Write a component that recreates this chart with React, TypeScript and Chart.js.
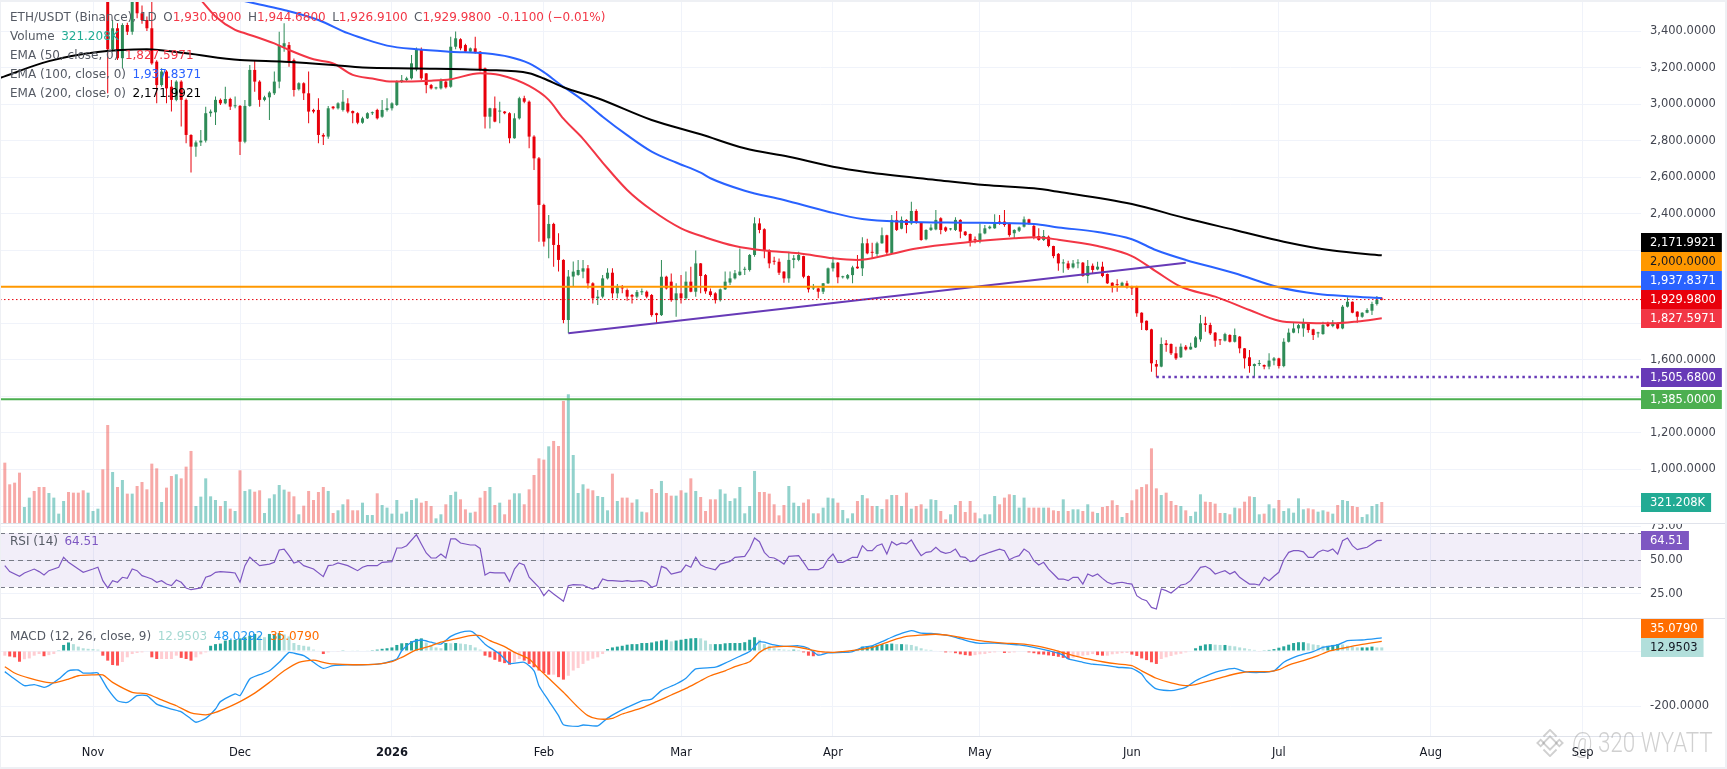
import React, { useEffect, useRef } from "react";
import { Chart, registerables } from "chart.js";

Chart.register(...registerables);

// Day index 0 = 1 Nov 2025 (daily candles, ETH/USDT Binance)
const CANDLE_FIRST_DAY = 3;
const opens = [
  3640,3300,3415,3251,3433,3396,3561,3497,3460,3415,
  3232,3104,3178,3095,3023,3123,3023,2831,2767,2790,
  2800,2950,2955,3023,3004,3028,2988,2990,2794,2990,
  3187,3123,3023,3037,3059,3123,3314,3323,3241,3081,
  3114,3059,2968,2968,2831,2822,2986,2977,2968,3004,
  2962,2950,2898,2922,2950,2968,2931,2968,2977,2995,
  3123,3132,3141,3190,3300,3168,3104,3086,3086,3123,
  3095,3314,3355,3323,3287,3305,3287,3196,2931,2977,
  2959,2959,2950,2813,2922,3032,3013,2822,2703,2448,
  2265,2344,2229,2147,1818,2056,2065,2083,2101,2019,
  1937,1946,2046,2077,1964,1997,1982,1955,1946,1970,
  1973,1955,1855,1845,2055,2028,1927,1964,1937,2028,
  1973,2128,2064,1975,1964,1927,1986,2023,2046,2064,
  2093,2092,2174,2347,2315,2201,2138,2137,2083,2046,
  2147,2147,2168,2059,1991,1991,1973,2019,2101,2132,
  2052,2046,2064,2110,2101,2238,2187,2180,2238,2282,
  2183,2366,2318,2366,2347,2415,2351,2260,2311,2314,
  2375,2325,2314,2311,2366,2302,2289,2256,2256,2292,
  2320,2320,2357,2357,2347,2293,2307,2329,2369,2333,
  2278,2256,2274,2223,2180,2128,2128,2106,2128,2132,
  2059,2115,2095,2110,2070,2022,2010,2004,2019,2004,
  2004,1858,1814,1767,1577,1563,1690,1687,1636,1614,
  1672,1657,1668,1712,1800,1791,1749,1708,1705,1736,
  1699,1727,1663,1614,1566,1577,1572,1563,1596,1608,
  1566,1699,1749,1772,1772,1803,1767,1745,1741,1800,
  1785,1800,1772,1891,1918,1864,1836,1858,1869,1906,
  1930.09,
];
const highs = [
  3700,3460,3442,3442,3445,3575,3578,3540,3480,3570,
  3240,3196,3185,3132,3130,3130,3030,2835,2800,2858,
  2986,2970,3041,3030,3095,3035,3041,2995,3023,3214,
  3241,3130,3045,3070,3178,3396,3442,3340,3250,3120,
  3120,3178,2975,3032,2840,2990,2990,3010,3077,3032,
  2965,2955,2930,2955,2960,2975,3023,3032,3010,3130,
  3159,3150,3269,3310,3310,3170,3110,3095,3140,3130,
  3369,3397,3360,3330,3310,3369,3290,3200,2980,3041,
  3013,2962,2955,2950,3040,3045,3020,2830,2710,2455,
  2393,2350,2293,2150,2092,2138,2147,2147,2119,2025,
  1982,2064,2101,2101,2015,2010,1990,1960,1982,1991,
  1980,1960,1858,2147,2060,2073,2019,2064,2083,2110,
  2198,2130,2070,1990,1970,1990,2083,2083,2092,2210,
  2110,2180,2380,2375,2320,2205,2165,2155,2085,2192,
  2174,2192,2170,2062,2015,1995,2020,2105,2165,2135,
  2060,2070,2115,2174,2271,2263,2241,2247,2325,2285,
  2393,2415,2384,2370,2466,2424,2355,2315,2342,2420,
  2380,2330,2322,2380,2370,2305,2292,2275,2347,2338,
  2335,2397,2393,2420,2350,2315,2330,2384,2372,2338,
  2320,2311,2280,2225,2185,2150,2143,2147,2150,2135,
  2147,2128,2137,2137,2072,2025,2041,2028,2033,2006,
  2006,1860,1816,1770,1599,1723,1708,1690,1672,1690,
  1681,1694,1730,1845,1836,1803,1752,1712,1749,1740,
  1772,1730,1665,1654,1580,1599,1575,1636,1615,1612,
  1718,1772,1803,1796,1827,1805,1770,1754,1809,1809,
  1818,1805,1900,1942,1920,1866,1860,1882,1918,1950,
  1944.68,
];
const lows = [
  3059,3287,3241,3196,3378,3380,3470,3440,3400,3215,
  3004,3095,3004,2959,3015,2877,2785,2625,2712,2770,
  2790,2930,2886,2995,2999,2968,2977,2721,2785,2985,
  3068,2986,3015,2913,3050,3086,3287,3205,3041,3075,
  3023,2895,2950,2785,2776,2810,2970,2970,2960,2950,
  2895,2890,2893,2918,2940,2915,2925,2960,2965,2990,
  3115,3125,3135,3180,3132,3059,3080,3080,3080,3085,
  3090,3300,3295,3280,3280,3275,3180,2867,2867,2900,
  2895,2945,2785,2810,2915,3005,2758,2639,2247,2220,
  2156,2110,2083,1800,1745,2000,2060,2046,1991,1909,
  1900,1937,2040,1937,1937,1964,1924,1909,1937,1955,
  1937,1836,1800,1840,1985,1918,1836,1909,1928,1970,
  1946,1964,1962,1946,1909,1920,1982,2010,2040,2060,
  2065,2083,2165,2293,2156,2101,2120,2064,2022,2022,
  2101,2140,2046,1968,1982,1937,1960,2015,2083,2019,
  2045,2040,2019,2098,2059,2178,2156,2168,2235,2174,
  2180,2305,2315,2293,2340,2345,2252,2255,2305,2310,
  2287,2300,2308,2305,2265,2278,2220,2238,2238,2288,
  2315,2318,2340,2329,2274,2265,2300,2325,2340,2260,
  2252,2250,2216,2156,2088,2077,2092,2100,2101,2055,
  2019,2074,2090,2052,2015,1968,1973,2000,1991,1955,
  1836,1763,1760,1535,1505.68,1560,1645,1626,1599,1610,
  1651,1655,1665,1699,1754,1736,1672,1681,1700,1695,
  1695,1636,1553,1530,1507,1566,1548,1548,1570,1553,
  1560,1695,1745,1745,1727,1749,1709,1723,1738,1780,
  1778,1768,1768,1887,1855,1803,1830,1855,1845,1898,
  1926.91,
];
const closes = [
  3300,3415,3251,3433,3396,3561,3497,3460,3415,3223,
  3104,3178,3086,3023,3123,3023,2831,2767,2790,2800,
  2950,2959,3023,3004,3028,2986,2990,2794,2990,3187,
  3123,3023,3037,3063,3123,3323,3333,3232,3077,3114,
  3059,2959,2959,2831,2822,2977,2977,3004,3013,2959,
  2950,2898,2922,2950,2952,2922,2968,2977,3004,3123,
  3132,3141,3223,3300,3141,3104,3086,3088,3132,3092,
  3314,3360,3305,3287,3305,3282,3187,2931,2977,2904,
  2960,2950,2813,2922,3032,3013,2822,2703,2448,2247,
  2344,2229,2147,1818,2056,2083,2092,2101,2019,1937,
  1946,2046,2077,1964,1997,1991,1946,1946,1971,1972,
  1946,1845,1845,2055,1991,1927,1964,1937,2028,1973,
  2128,2059,1975,1955,1927,1986,2028,2046,2074,2083,
  2095,2174,2347,2311,2198,2128,2137,2077,2046,2147,
  2156,2174,2055,1986,1992,1973,2019,2101,2132,2052,
  2054,2064,2106,2101,2238,2183,2186,2238,2282,2187,
  2366,2311,2366,2338,2415,2351,2256,2311,2324,2366,
  2311,2307,2316,2366,2302,2283,2247,2255,2292,2320,
  2329,2347,2344,2338,2283,2311,2325,2369,2347,2274,
  2256,2278,2223,2168,2128,2130,2101,2128,2129,2059,
  2114,2092,2110,2059,2019,1997,2009,2022,1997,1991,
  1855,1803,1763,1581,1563,1687,1681,1636,1608,1672,
  1657,1672,1723,1800,1791,1745,1705,1707,1741,1699,
  1736,1663,1608,1566,1577,1578,1563,1596,1608,1566,
  1699,1749,1772,1790,1803,1763,1736,1746,1791,1785,
  1803,1772,1891,1918,1858,1836,1858,1873,1906,1930.09,
  1929.98,
];

// Series that start before the first visible candle
const SERIES_FIRST_DAY = -18;
// volume in thousands
const volumes = [
  923,592,617,770,245,388,490,551,551,459,
  388,143,337,474,464,464,500,464,184,219,
  821,1499,780,551,658,449,449,566,627,515,
  908,836,321,541,719,745,683,862,1102,260,
  403,683,408,352,260,337,219,184,806,490,
  515,479,500,153,377,439,581,510,479,408,
  133,265,490,352,474,551,490,153,194,286,
  362,194,194,311,122,122,454,275,235,143,
  352,143,173,352,377,311,337,260,71,133,
  286,428,479,362,209,158,173,388,490,551,
  275,311,133,357,454,454,286,515,734,989,
  969,1173,1255,1178,1867,1969,1040,459,592,525,
  500,413,398,194,755,337,388,388,311,362,
  173,163,520,459,643,459,418,418,500,464,
  683,490,398,184,362,362,515,449,337,377,
  551,148,260,796,474,474,449,286,117,275,
  566,311,260,311,362,148,148,235,388,377,
  311,199,71,148,337,428,377,260,260,214,
  362,428,428,260,464,219,260,286,219,362,
  352,184,56,133,275,337,168,337,158,71,
  133,133,413,286,388,439,428,235,388,235,
  235,235,235,235,194,184,362,184,209,209,
  184,286,173,153,245,260,347,275,92,153,
  347,515,551,592,1142,530,428,464,337,275,
  260,194,107,173,439,326,321,296,153,153,
  133,235,224,326,408,398,133,143,286,224,
  352,184,224,158,377,209,224,209,173,194,
  173,143,275,352,337,260,245,92,133,260,
  290,321.208,
];
// direction of the volume bars whose candles sit above the visible range (days -18..2)
const earlyVolumeDirections = "dddduuddduuuudddduuud";

const macdHistogram = [
  -17,-20,-23,-39,-30,-27,-17,-11,-19,-15,
  -11,1,22,31,25,16,10,8,7,5,
  -17,-35,-51,-53,-40,-23,-11,-7,-5,-2,
  -23,-29,-29,-29,-29,-17,-25,-29,-35,-23,
  -12,-5,19,25,27,38,40,41,46,50,
  56,62,56,50,62,62,65,60,53,29,
  22,19,16,5,2,-11,-5,-2,-1,1,
  0,2,1,0,2,3,5,8,10,13,
  22,28,29,36,44,46,31,22,13,10,
  29,28,29,27,25,22,13,5,-17,-23,
  -32,-39,-44,-50,-41,-29,-35,-47,-59,-71,
  -80,-86,-86,-95,-104,-90,-71,-62,-47,-35,
  -28,-23,-11,7,13,16,19,23,25,25,
  29,29,31,35,38,41,35,38,41,44,
  46,47,46,38,25,25,25,28,29,29,
  29,32,41,50,41,25,19,10,7,5,
  4,5,4,-5,-17,-19,-17,-12,-7,-2,
  -2,-4,-5,1,7,16,17,19,22,25,
  25,27,25,25,24,22,17,10,5,4,
  2,-2,-5,-5,-8,-12,-15,-17,-15,-12,
  -11,-7,-5,-2,-7,-7,-5,-2,-2,-5,
  -8,-12,-13,-16,-18,-21,-25,-29,-24,-19,
  -17,-15,-11,-15,-17,-17,-12,-10,-8,-7,
  -13,-18,-27,-33,-41,-47,-29,-23,-18,-13,
  -10,-5,-2,10,19,24,25,23,22,22,
  19,17,13,10,6,4,-2,1,4,7,
  12,17,23,29,32,32,28,24,22,19,
  19,22,25,24,19,16,13,13,13,16,
  13,12.9503,
];

const macdLine: [number, number][] = [
  [-18,-75],[-16,-102],[-14,-126],[-12,-122],[-10,-132],[-9,-126],[-7,-102],[-5,-72],[-3,-69],[-2,-80],
  [0,-80],[1,-80],[3,-138],[5,-181],[7,-187],[9,-162],[11,-162],[13,-193],[16,-211],[18,-221],
  [20,-247],[21,-259],[23,-245],[25,-211],[26,-184],[29,-156],[30,-162],[32,-102],[34,-86],[36,-72],
  [38,-41],[40,-5],[41,-8],[43,-17],[45,-41],[47,-63],[49,-53],[52,-50],[55,-50],[58,-48],
  [60,-41],[62,-29],[63,1],[65,32],[67,40],[69,32],[71,25],[73,53],[75,68],[77,72],
  [78,62],[80,25],[83,-11],[85,-45],[88,-41],[90,-72],[91,-126],[93,-181],[95,-235],[96,-268],
  [99,-274],[100,-269],[103,-272],[105,-244],[107,-223],[109,-205],[112,-181],[114,-175],[116,-144],[119,-120],
  [121,-99],[123,-65],[127,-59],[129,-44],[132,-19],[134,-2],[136,34],[137,32],[139,22],[141,17],
  [144,19],[146,10],[148,-15],[150,-7],[153,-5],[155,-2],[157,13],[159,19],[161,34],[163,50],
  [165,64],[167,74],[169,65],[171,64],[174,58],[176,50],[179,34],[181,28],[184,29],[187,25],
  [189,22],[192,13],[195,1],[198,-15],[199,-29],[202,-41],[204,-48],[207,-53],[209,-59],[212,-63],
  [214,-84],[215,-108],[217,-138],[220,-144],[223,-132],[225,-108],[228,-84],[230,-72],[233,-63],[235,-75],
  [238,-78],[241,-72],[243,-41],[246,-17],[249,-2],[251,13],[254,22],[256,38],[259,40],[263,48.0292],
];
const signalLine: [number, number][] = [
  [-18,-57],[-16,-80],[-13,-99],[-10,-112],[-8,-116],[-5,-102],[-3,-90],[0,-87],[2,-87],[4,-114],
  [8,-150],[11,-156],[14,-178],[17,-199],[20,-225],[23,-232],[25,-223],[28,-201],[30,-184],[33,-153],
  [36,-114],[39,-72],[42,-41],[45,-33],[47,-41],[49,-47],[53,-50],[58,-48],[61,-39],[63,-23],
  [66,4],[69,19],[71,32],[74,44],[77,56],[79,56],[81,38],[84,16],[86,-5],[89,-29],
  [91,-65],[93,-99],[96,-150],[99,-205],[101,-235],[103,-247],[106,-245],[108,-229],[112,-207],[115,-184],
  [118,-160],[121,-136],[124,-108],[126,-90],[129,-72],[131,-57],[134,-39],[136,-5],[138,13],[141,17],
  [143,16],[145,10],[148,-1],[151,-5],[153,-2],[156,4],[159,13],[161,25],[163,38],[166,53],
  [169,58],[172,61],[175,56],[178,46],[182,35],[186,29],[190,25],[193,17],[196,4],[199,-11],
  [203,-29],[206,-39],[209,-47],[212,-53],[214,-72],[217,-99],[220,-116],[223,-126],[225,-122],[228,-108],
  [231,-93],[234,-80],[236,-75],[240,-75],[242,-68],[244,-51],[247,-35],[250,-17],[252,-2],[255,10],
  [259,24],[263,35.079],
];

const rsiPoints: [number, number][] = [
  [-18,45.8],[-17,41.4],[-15,37.9],[-14,40.4],[-12,43.3],[-11,41.4],[-10,38.9],[-9,42.1],[-7,44.6],[-6,52.0],
  [-5,48.3],[-3,43.3],[-2,40.9],[0,43.3],[1,44.6],[2,34.7],[3,29.3],[4,34.7],[5,33.5],[6,37.2],
  [7,36.4],[8,43.3],[9,42.1],[10,38.4],[11,37.2],[12,35.9],[13,33.5],[14,34.7],[15,32.2],[16,31.0],
  [17,35.2],[18,33.5],[19,29.3],[20,28.0],[22,29.3],[23,37.2],[24,38.4],[25,40.9],[26,41.4],[28,40.9],
  [29,40.4],[30,33.5],[31,45.8],[32,52.0],[33,48.8],[34,45.8],[36,47.0],[37,48.3],[38,57.4],[39,58.1],
  [40,53.2],[41,47.8],[42,49.0],[43,45.8],[45,43.3],[47,37.7],[48,45.8],[49,46.3],[50,47.8],[52,45.8],
  [54,42.1],[55,44.6],[56,45.8],[58,45.8],[59,48.3],[61,48.8],[62,58.9],[63,58.9],[64,60.6],[66,68.8],
  [67,61.9],[68,55.2],[69,51.5],[70,51.5],[71,54.4],[72,51.5],[73,65.6],[74,65.6],[75,62.6],[77,61.1],
  [78,61.1],[79,58.6],[80,38.9],[81,40.9],[82,40.4],[84,40.4],[85,34.0],[86,43.3],[87,47.8],[88,46.3],
  [89,37.2],[91,29.8],[92,23.6],[93,27.8],[94,24.8],[96,19.4],[97,31.0],[98,31.7],[100,31.5],[101,29.8],
  [102,28.5],[103,29.8],[104,35.9],[105,34.7],[106,34.7],[108,34.2],[109,34.7],[110,34.2],[112,34.7],[113,33.5],
  [114,29.8],[115,31.0],[116,45.3],[117,43.8],[118,39.6],[120,41.4],[121,46.3],[122,44.6],[123,52.0],[124,46.5],
  [125,44.6],[127,42.8],[128,47.0],[130,49.0],[131,52.0],[133,52.7],[134,58.1],[135,66.3],[136,63.6],[137,55.7],
  [138,52.0],[139,51.5],[140,49.5],[141,47.0],[142,52.7],[144,53.2],[145,48.3],[146,42.8],[148,42.8],[149,44.6],
  [150,50.7],[151,54.4],[152,48.3],[153,48.3],[155,52.0],[156,52.0],[157,60.6],[158,56.9],[159,56.9],[160,60.6],
  [161,61.9],[162,54.4],[163,63.6],[164,61.1],[165,62.6],[166,61.9],[167,64.8],[168,58.6],[169,53.2],[170,55.7],
  [171,56.2],[172,59.4],[173,56.2],[174,54.9],[175,55.7],[176,58.1],[177,52.5],[178,52.0],[179,48.8],[180,49.5],
  [181,53.2],[182,54.4],[183,55.7],[185,58.1],[186,56.9],[187,50.2],[188,52.0],[189,53.2],[190,58.1],[191,55.7],
  [192,49.5],[193,46.3],[194,48.3],[195,43.3],[196,39.6],[197,35.9],[198,35.9],[199,34.7],[200,37.2],[201,37.2],
  [202,32.2],[203,39.6],[204,37.9],[205,39.6],[206,36.4],[207,33.5],[208,32.2],[209,33.0],[210,33.5],[211,32.7],
  [212,32.2],[213,23.6],[214,21.1],[215,19.9],[216,14.9],[217,13.7],[218,28.5],[219,27.3],[220,25.6],[222,31.5],
  [223,32.2],[224,34.7],[226,44.6],[227,45.3],[228,43.3],[229,39.6],[230,40.9],[231,42.1],[232,39.6],[233,41.4],
  [234,37.2],[235,34.7],[236,32.2],[237,32.2],[238,31.5],[239,37.2],[240,34.7],[241,38.0],[242,40.9],[243,50.2],
  [244,55.7],[245,56.9],[246,56.9],[247,56.0],[248,52.0],[249,52.0],[250,55.7],[251,57.4],[252,56.4],[253,58.1],
  [254,54.4],[255,64.3],[256,66.3],[257,60.6],[258,57.7],[259,58.6],[260,59.4],[261,61.9],[262,64.3],[263,64.51],
];

const ema50: [number, number][] = [
  [22,3570],[25,3480],[29,3406],[31,3388],[37,3332],[40,3296],[45,3245],[49,3223],[53,3160],[57,3140],
  [61,3123],[69,3128],[73,3136],[79,3169],[83,3159],[89,3099],[93,3023],[96,2920],[100,2810],[104,2680],
  [109,2530],[114,2420],[120,2320],[125,2270],[131,2223],[137,2198],[144,2183],[151,2156],[156,2147],[162,2174],
  [168,2210],[178,2243],[188,2265],[192,2271],[197,2258],[205,2223],[212,2168],[217,2083],[222,2000],[229,1946],
  [236,1873],[242,1814],[247,1803],[253,1800],[258,1810],[263,1827.5971],
];
const ema100: [number, number][] = [
  [30,3570],[34,3545],[39,3515],[46,3460],[52,3388],[55,3360],[60,3320],[66,3300],[73,3287],[80,3278],
  [85,3258],[89,3223],[92,3175],[95,3114],[100,3020],[104,2931],[109,2830],[114,2740],[119,2680],[124,2625],
  [126,2594],[133,2526],[141,2475],[150,2411],[157,2371],[165,2356],[178,2351],[192,2344],[197,2325],[205,2300],
  [212,2260],[217,2200],[223,2147],[233,2074],[242,1997],[250,1960],[256,1948],[263,1937.8371],
];
const ema200: [number, number][] = [
  [-19,3143],[-9,3235],[1,3285],[11,3300],[19,3278],[30,3241],[39,3232],[49,3214],[55,3200],[66,3195],
  [80,3187],[89,3169],[92,3140],[96,3092],[103,3032],[114,2913],[124,2835],[133,2758],[142,2712],[151,2657],
  [158,2627],[172,2585],[182,2557],[192,2539],[197,2520],[212,2453],[223,2375],[233,2311],[243,2247],[253,2198],
  [263,2171.9921],
];

const trendLine: [number, number][] = [[97, 1745], [223, 2132]];
const resistanceLevel = 2000;
const supportLevel = 1385;
const swingLowLevel = 1505.68;
const swingLowDay = 217;

const monthTicks: [number, string][] = [
  [0, "Nov"], [30, "Dec"], [61, "2026"], [92, "Feb"], [120, "Mar"], [151, "Apr"],
  [181, "May"], [212, "Jun"], [242, "Jul"], [273, "Aug"], [304, "Sep"],
];
const yearTickDay = 61;
const priceTicks = [800,1000,1200,1400,1600,1800,2000,2200,2400,2600,2800,3000,3200,3400];
const rsiTicks = [25, 50, 75];
const rsiBandLines = [70, 50, 30];
const macdTicks = [-200, 0];

// axis ranges
const DAY_MIN = -18.98;
const DAY_MAX = 315.9;
const PRICE_MIN = 707;
const PRICE_MAX = 3569.7;
const VOLUME_MAX = 8000;
const RSI_MIN = 7.04;
const RSI_MAX = 77.41;
const MACD_MIN = -309;
const MACD_MAX = 120;

// ---------------------------------------------------------------------------
const FONT = "'DejaVu Sans', 'Liberation Sans', sans-serif";
const AXIS_W = 86;
const GRID = "#f0f3fa";
const TEXT = "#434651";
const UP = "#2e8b57";
const DOWN = "#e8000b";
const VOL_UP = "rgba(38,166,154,0.5)";
const VOL_DOWN = "rgba(239,83,80,0.5)";
const EMA50_C = "#f23645";
const EMA100_C = "#2962ff";
const EMA200_C = "#000000";
const PURPLE = "#673ab7";
const ORANGE = "#ff9800";
const GREEN_LVL = "#4caf50";
const RSI_C = "#7e57c2";
const MACD_C = "#2196f3";
const SIGNAL_C = "#ff6d00";

const fmt4 = (v: number) =>
  v.toLocaleString("en-US", { minimumFractionDigits: 4, maximumFractionDigits: 4 });

type Tag = { value: number; text: string; bg: string; fg: string };

function drawTags(chart: any, axisId: string, tags: Tag[]) {
  const { ctx, chartArea } = chart;
  const scale = chart.scales[axisId];
  const h = 19;
  const items = tags
    .map((t) => ({ ...t, y: scale.getPixelForValue(t.value) }))
    .sort((a, b) => b.y - a.y);
  let prev = Infinity;
  ctx.save();
  ctx.font = `11.5px ${FONT}`;
  ctx.textBaseline = "middle";
  ctx.textAlign = "left";
  for (const it of items) {
    const y = Math.min(it.y, prev - h);
    prev = y;
    const w = ctx.measureText(it.text).width + 15;
    ctx.fillStyle = it.bg;
    ctx.fillRect(chartArea.right, Math.round(y - h / 2), w, h);
    ctx.fillStyle = it.fg;
    ctx.fillText(it.text, chartArea.right + 9, Math.round(y - h / 2) + h / 2 + 0.5);
  }
  ctx.restore();
}

const pairs = (p: [number, number][]) => p.map(([x, y]) => ({ x, y }));

function xAxis(showLabels: boolean) {
  return {
    type: "linear" as const,
    min: DAY_MIN,
    max: DAY_MAX,
    offset: false,
    position: "bottom" as const,
    grid: { color: GRID, drawTicks: false, tickLength: 0, offset: false },
    border: { display: showLabels, color: "#e0e3eb" },
    afterBuildTicks: (s: any) => {
      s.ticks = monthTicks.map(([d]) => ({ value: d }));
    },
    afterFit: (s: any) => {
      s.height = showLabels ? 33 : 0;
      s.paddingLeft = 0;
      s.paddingRight = 0;
    },
    ticks: {
      display: showLabels,
      autoSkip: false,
      maxRotation: 0,
      padding: 10,
      color: "#131722",
      font: (c: any) => ({
        family: FONT,
        size: 11.5,
        weight: c.tick && c.tick.value === yearTickDay ? "bold" : "normal",
      }),
      callback: (v: any) => {
        const m = monthTicks.find(([d]) => d === v);
        return m ? m[1] : "";
      },
    },
  };
}

function yAxis(min: number, max: number, ticks: number[], fmt: (v: number) => string) {
  return {
    type: "linear" as const,
    position: "right" as const,
    min,
    max,
    grid: { color: GRID, drawTicks: false, tickLength: 0 },
    border: { display: false },
    afterBuildTicks: (s: any) => {
      s.ticks = ticks.map((v) => ({ value: v }));
    },
    afterFit: (s: any) => {
      s.width = AXIS_W;
      s.paddingTop = 0;
      s.paddingBottom = 0;
    },
    ticks: {
      padding: 9,
      color: TEXT,
      font: { family: FONT, size: 11.5 },
      callback: (v: any) => fmt(Number(v)),
    },
  };
}

const baseOptions = {
  animation: false as const,
  responsive: false,
  maintainAspectRatio: false,
  events: [] as any[],
  layout: { padding: 0 },
  plugins: { legend: { display: false }, tooltip: { enabled: false } },
};

export default function App() {
  const priceRef = useRef<HTMLCanvasElement>(null);
  const rsiRef = useRef<HTMLCanvasElement>(null);
  const macdRef = useRef<HTMLCanvasElement>(null);

  useEffect(() => {
    document.body.style.margin = "0";
    Chart.defaults.font.family = FONT;

    const n = closes.length;
    const candleDays = closes.map((_, i) => CANDLE_FIRST_DAY + i);
    const candleColors = closes.map((c, i) => (c >= opens[i] ? UP : DOWN));
    const bodies = closes.map((c, i) => ({ x: candleDays[i], y: [opens[i], c] }));
    const wicks = closes.map((_, i) => ({ x: candleDays[i], y: [lows[i], highs[i]] }));

    const volData = volumes.map((v, i) => ({ x: SERIES_FIRST_DAY + i, y: v }));
    const volColors = volumes.map((_, i) => {
      const day = SERIES_FIRST_DAY + i;
      const ci = day - CANDLE_FIRST_DAY;
      if (ci >= 0 && ci < n) return closes[ci] >= opens[ci] ? VOL_UP : VOL_DOWN;
      return earlyVolumeDirections[i] === "u" ? VOL_UP : VOL_DOWN;
    });

    const flat = (v: number, from = DAY_MIN) => [
      { x: from, y: v },
      { x: DAY_MAX, y: v },
    ];
    const lastClose = closes[n - 1];
    const last = (p: [number, number][]) => p[p.length - 1][1];

    const lineDs = (data: any[], color: string, width: number, order: number, extra: any = {}) => ({
      type: "line" as const,
      data,
      borderColor: color,
      borderWidth: width,
      pointRadius: 0,
      fill: false,
      order,
      ...extra,
    });

    const priceChart = new Chart(priceRef.current as HTMLCanvasElement, {
      type: "bar",
      data: {
        datasets: [
          {
            type: "bar",
            data: volData as any,
            yAxisID: "vol",
            backgroundColor: volColors,
            barThickness: 3,
            grouped: false,
            inflateAmount: 0,
            order: 9,
          },
          {
            type: "bar",
            data: wicks as any,
            yAxisID: "y",
            backgroundColor: candleColors,
            barThickness: 1,
            grouped: false,
            inflateAmount: 0,
            minBarLength: 1,
            order: 6,
          },
          {
            type: "bar",
            data: bodies as any,
            yAxisID: "y",
            backgroundColor: candleColors,
            barThickness: 3,
            grouped: false,
            inflateAmount: 0,
            minBarLength: 1,
            order: 5,
          },
          lineDs(pairs(ema200), EMA200_C, 2, 3, { yAxisID: "y", cubicInterpolationMode: "monotone" }),
          lineDs(pairs(ema100), EMA100_C, 2, 3, { yAxisID: "y", cubicInterpolationMode: "monotone" }),
          lineDs(pairs(ema50), EMA50_C, 2, 3, { yAxisID: "y", cubicInterpolationMode: "monotone" }),
          lineDs(pairs(trendLine), PURPLE, 2, 2, { yAxisID: "y" }),
          lineDs(flat(resistanceLevel), ORANGE, 2, 1, { yAxisID: "y" }),
          lineDs(flat(supportLevel), GREEN_LVL, 2, 1, { yAxisID: "y" }),
          lineDs(flat(swingLowLevel, swingLowDay), PURPLE, 2.5, 1, { yAxisID: "y", borderDash: [2.5, 3.5] }),
          lineDs(flat(lastClose), DOWN, 1, 1, { yAxisID: "y", borderDash: [1.5, 2.5] }),
        ],
      },
      options: {
        ...baseOptions,
        scales: {
          x: xAxis(false) as any,
          y: yAxis(PRICE_MIN, PRICE_MAX, priceTicks, fmt4) as any,
          vol: { type: "linear", display: false, min: 0, max: VOLUME_MAX } as any,
        },
      },
      plugins: [
        {
          id: "priceTags",
          afterDraw: (c: any) => {
            drawTags(c, "y", [
              { value: last(ema200), text: fmt4(last(ema200)), bg: "#000000", fg: "#ffffff" },
              { value: resistanceLevel, text: fmt4(resistanceLevel), bg: ORANGE, fg: "#131722" },
              { value: last(ema100), text: fmt4(last(ema100)), bg: EMA100_C, fg: "#ffffff" },
              { value: lastClose, text: fmt4(lastClose), bg: DOWN, fg: "#ffffff" },
              { value: last(ema50), text: fmt4(last(ema50)), bg: EMA50_C, fg: "#ffffff" },
            ]);
            drawTags(c, "y", [
              { value: swingLowLevel, text: fmt4(swingLowLevel), bg: PURPLE, fg: "#ffffff" },
            ]);
            drawTags(c, "y", [
              { value: supportLevel, text: fmt4(supportLevel), bg: GREEN_LVL, fg: "#ffffff" },
            ]);
            const v = volumes[volumes.length - 1];
            drawTags(c, "vol", [{ value: v, text: v.toFixed(3) + "K", bg: "#22ab94", fg: "#ffffff" }]);
          },
        },
      ],
    });

    const rsiChart = new Chart(rsiRef.current as HTMLCanvasElement, {
      type: "line",
      data: {
        datasets: [lineDs(pairs(rsiPoints), RSI_C, 1.2, 1, { tension: 0 })],
      },
      options: {
        ...baseOptions,
        scales: {
          x: xAxis(false) as any,
          y: yAxis(RSI_MIN, RSI_MAX, rsiTicks, (v) => v.toFixed(2)) as any,
        },
      },
      plugins: [
        {
          id: "rsiBand",
          beforeDatasetsDraw: (c: any) => {
            const { ctx, chartArea: a, scales } = c;
            const y = scales.y;
            const top = y.getPixelForValue(rsiBandLines[0]);
            const bot = y.getPixelForValue(rsiBandLines[rsiBandLines.length - 1]);
            ctx.save();
            ctx.fillStyle = "rgba(126,87,194,0.1)";
            ctx.fillRect(a.left, top, a.right - a.left, bot - top);
            ctx.strokeStyle = "#787b86";
            ctx.lineWidth = 1;
            ctx.setLineDash([5, 4]);
            for (const v of rsiBandLines) {
              const py = Math.round(y.getPixelForValue(v)) + 0.5;
              ctx.beginPath();
              ctx.moveTo(a.left, py);
              ctx.lineTo(a.right, py);
              ctx.stroke();
            }
            ctx.restore();
          },
          afterDraw: (c: any) => {
            const v = last(rsiPoints);
            drawTags(c, "y", [{ value: v, text: v.toFixed(2), bg: RSI_C, fg: "#ffffff" }]);
          },
        },
      ],
    });

    const histData = macdHistogram.map((v, i) => ({ x: SERIES_FIRST_DAY + i, y: v }));
    const histColors = macdHistogram.map((v, i) => {
      const prev = i > 0 ? macdHistogram[i - 1] : v;
      if (v >= 0) return v >= prev ? "#26a69a" : "#b2dfdb";
      return v < prev ? "#ff5252" : "#ffcdd2";
    });

    const macdChart = new Chart(macdRef.current as HTMLCanvasElement, {
      type: "bar",
      data: {
        datasets: [
          {
            type: "bar",
            data: histData as any,
            backgroundColor: histColors,
            barThickness: 3,
            grouped: false,
            inflateAmount: 0,
            order: 5,
          },
          lineDs(pairs(macdLine), MACD_C, 1.3, 2, { tension: 0.2 }),
          lineDs(pairs(signalLine), SIGNAL_C, 1.3, 1, { tension: 0.2 }),
        ],
      },
      options: {
        ...baseOptions,
        scales: {
          x: xAxis(true) as any,
          y: yAxis(MACD_MIN, MACD_MAX, macdTicks, fmt4) as any,
        },
      },
      plugins: [
        {
          id: "macdTags",
          afterDraw: (c: any) => {
            const s = last(signalLine);
            const h = macdHistogram[macdHistogram.length - 1];
            drawTags(c, "y", [
              { value: s, text: s.toFixed(4), bg: SIGNAL_C, fg: "#ffffff" },
              { value: h, text: h.toFixed(4), bg: "#b2dfdb", fg: "#131722" },
            ]);
          },
        },
      ],
    });

    return () => {
      priceChart.destroy();
      rsiChart.destroy();
      macdChart.destroy();
    };
  }, []);

  const n = closes.length;
  const o = opens[n - 1];
  const h = highs[n - 1];
  const l = lows[n - 1];
  const c = closes[n - 1];
  const chg = c - closes[n - 2];
  const pct = (chg / closes[n - 2]) * 100;
  const redTxt = "#f23645";
  const gray = "#555a64";
  const legendRow: React.CSSProperties = { display: "flex", whiteSpace: "pre", height: 19, alignItems: "center" };
  const gap = { marginLeft: 6.5 };

  return (
    <div
      style={{
        position: "relative",
        width: 1727,
        height: 769,
        background: "#ffffff",
        overflow: "hidden",
        fontFamily: FONT,
        fontSize: 12,
      }}
    >
      <canvas ref={priceRef} width={1727} height={523} style={{ position: "absolute", left: 0, top: 0 }} />
      <canvas ref={rsiRef} width={1727} height={95} style={{ position: "absolute", left: 0, top: 523 }} />
      <canvas ref={macdRef} width={1727} height={151} style={{ position: "absolute", left: 0, top: 618 }} />

      <div style={{ position: "absolute", left: 0, top: 523, width: 1727, height: 1, background: "#e0e3eb" }} />
      <div style={{ position: "absolute", left: 0, top: 618, width: 1727, height: 1, background: "#e0e3eb" }} />

      <div style={{ position: "absolute", left: 10, top: 7.5, color: gray, lineHeight: "19px" }}>
        <div style={legendRow}>
          <span>ETH/USDT (Binance), 1D</span>
          <span style={gap}>O<span style={{ color: redTxt }}>{fmt4(o)}</span></span>
          <span style={gap}>H<span style={{ color: redTxt }}>{fmt4(h)}</span></span>
          <span style={gap}>L<span style={{ color: redTxt }}>{fmt4(l)}</span></span>
          <span style={gap}>C<span style={{ color: redTxt }}>{fmt4(c)}</span></span>
          <span style={{ ...gap, color: redTxt }}>
            {chg.toFixed(4)} ({pct < 0 ? "\u2212" : "+"}{Math.abs(pct).toFixed(2)}%)
          </span>
        </div>
        <div style={legendRow}>
          <span>Volume</span>
          <span style={{ ...gap, color: "#22ab94" }}>{volumes[volumes.length - 1].toFixed(3)}K</span>
        </div>
        <div style={legendRow}>
          <span>EMA (50, close, 0)</span>
          <span style={{ ...gap, color: EMA50_C }}>{fmt4(ema50[ema50.length - 1][1])}</span>
        </div>
        <div style={legendRow}>
          <span>EMA (100, close, 0)</span>
          <span style={{ ...gap, color: EMA100_C }}>{fmt4(ema100[ema100.length - 1][1])}</span>
        </div>
        <div style={legendRow}>
          <span>EMA (200, close, 0)</span>
          <span style={{ ...gap, color: "#000" }}>{fmt4(ema200[ema200.length - 1][1])}</span>
        </div>
      </div>

      <div style={{ position: "absolute", left: 10, top: 531.5, color: gray, ...legendRow }}>
        <span>RSI (14)</span>
        <span style={{ ...gap, color: RSI_C }}>{rsiPoints[rsiPoints.length - 1][1].toFixed(2)}</span>
      </div>

      <div style={{ position: "absolute", left: 10, top: 626.5, color: gray, ...legendRow }}>
        <span>MACD (12, 26, close, 9)</span>
        <span style={{ ...gap, color: "#a5d9d2" }}>{macdHistogram[macdHistogram.length - 1].toFixed(4)}</span>
        <span style={{ ...gap, color: MACD_C }}>{macdLine[macdLine.length - 1][1].toFixed(4)}</span>
        <span style={{ ...gap, color: SIGNAL_C }}>{signalLine[signalLine.length - 1][1].toFixed(4)}</span>
      </div>

      <svg
        width="28"
        height="28"
        viewBox="0 0 30 30"
        style={{ position: "absolute", left: 1536, top: 729 }}
      >
        <g fill="none" stroke="rgba(150,150,150,0.45)" strokeWidth="2">
          <rect x="10" y="10" width="10" height="10" transform="rotate(45 15 15)" />
          <rect x="2.5" y="12.5" width="5" height="5" transform="rotate(45 5 15)" />
          <rect x="22.5" y="12.5" width="5" height="5" transform="rotate(45 25 15)" />
          <path d="M8 8 L15 1 L22 8" />
          <path d="M8 22 L15 29 L22 22" />
        </g>
      </svg>
      <div
        style={{
          position: "absolute",
          left: 1572,
          top: 726,
          height: 34,
          lineHeight: "34px",
          color: "rgba(150,150,150,0.45)",
          fontSize: 28,
          fontWeight: 300,
          fontFamily: "Roboto, 'Open Sans', sans-serif",
          whiteSpace: "pre",
          transform: "scaleX(0.8)",
          transformOrigin: "left center",
        }}
      >
        @ 320 WYATT
      </div>

      <div
        style={{
          position: "absolute",
          left: 0,
          top: 0,
          width: 1727,
          height: 769,
          boxSizing: "border-box",
          border: "2px solid #eef0f4",
          borderLeft: "1px solid #eef0f4",
          pointerEvents: "none",
        }}
      />
    </div>
  );
}
